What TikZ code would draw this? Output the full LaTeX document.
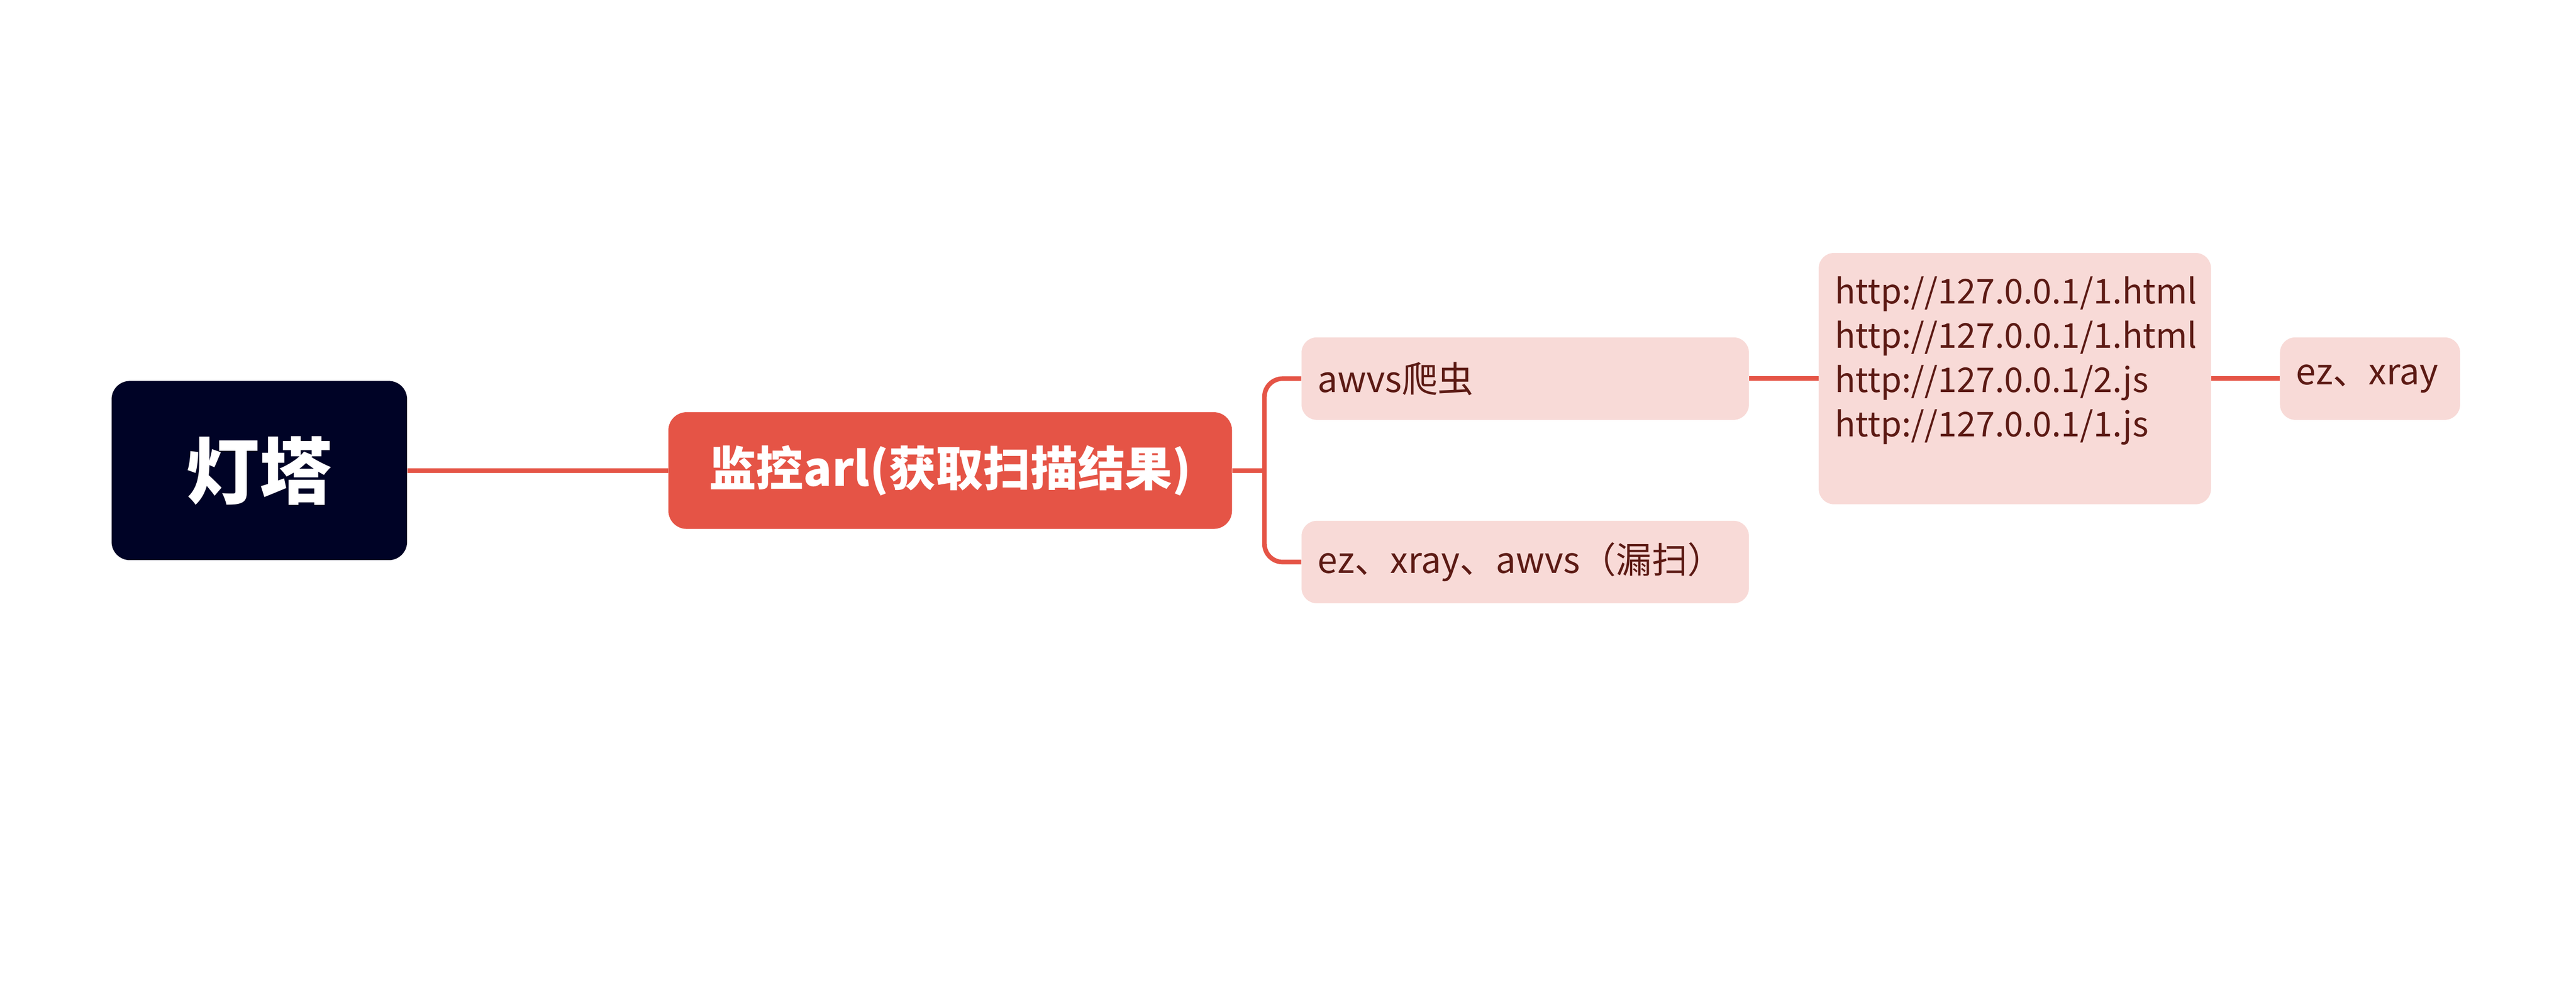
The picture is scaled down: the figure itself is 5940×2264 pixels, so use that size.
\documentclass[tikz,border=0pt]{standalone}
\usepackage{fontspec}
\setmainfont{Noto Sans CJK SC}
\definecolor{rootblue}{RGB}{0,3,38}
\definecolor{armred}{RGB}{229,84,70}
\definecolor{leafpink}{RGB}{248,218,215}
\definecolor{leaftext}{RGB}{92,26,20}
\begin{document}
\begin{tikzpicture}[x=0.01cm,y=-0.01cm,
	box/.style={rounded corners=10pt,inner sep=0pt,align=center},
	leaf/.style={box,fill=leafpink,text=leaftext,font=\fontsize{23.5}{29}\selectfont,align=left,inner xsep=3.7mm,minimum height=19mm},
	branch/.style={armred,line width=3pt}]
	\fill[white] (0,0) rectangle (5940,2264);
	\node[box,rounded corners=12pt,fill=rootblue,text=white,font=\bfseries\fontsize{48}{56}\selectfont,minimum width=68.1mm,minimum height=41.3mm] (root) at (598,1085) {灯塔};
	\node[box,rounded corners=12pt,fill=armred,text=white,font=\bfseries\fontsize{31}{38}\selectfont,minimum width=129.9mm,minimum height=26.9mm] (monitor) at (2191,1085) {监控arl(获取扫描结果)};
	\node[leaf,text width=95.7mm] (crawler) at (3517,873) {awvs爬虫};
	\node[leaf,text width=95.7mm] (vulnscan) at (3517,1296) {ez、xray、awvs（漏扫）};
	\node[leaf,font=\fontsize{22.4}{29}\selectfont,text width=83mm,minimum height=57.9mm] (urls) at (4646,873) {http://127.0.0.1/1.html\\http://127.0.0.1/1.html\\http://127.0.0.1/2.js\\http://127.0.0.1/1.js\\\mbox{}};
	\node[leaf,text width=34.1mm] (ezxray) at (5465,873) {ez、xray};
	\draw[branch] (root) -- (monitor);
	\draw[branch] (monitor.east) -- ++(7.4mm,0) coordinate (fork);
	\draw[branch,rounded corners=12pt] (crawler.west) -| (fork) |- (vulnscan.west);
	\draw[branch] (crawler) -- (urls);
	\draw[branch] (urls) -- (ezxray);
\end{tikzpicture}
\end{document}
